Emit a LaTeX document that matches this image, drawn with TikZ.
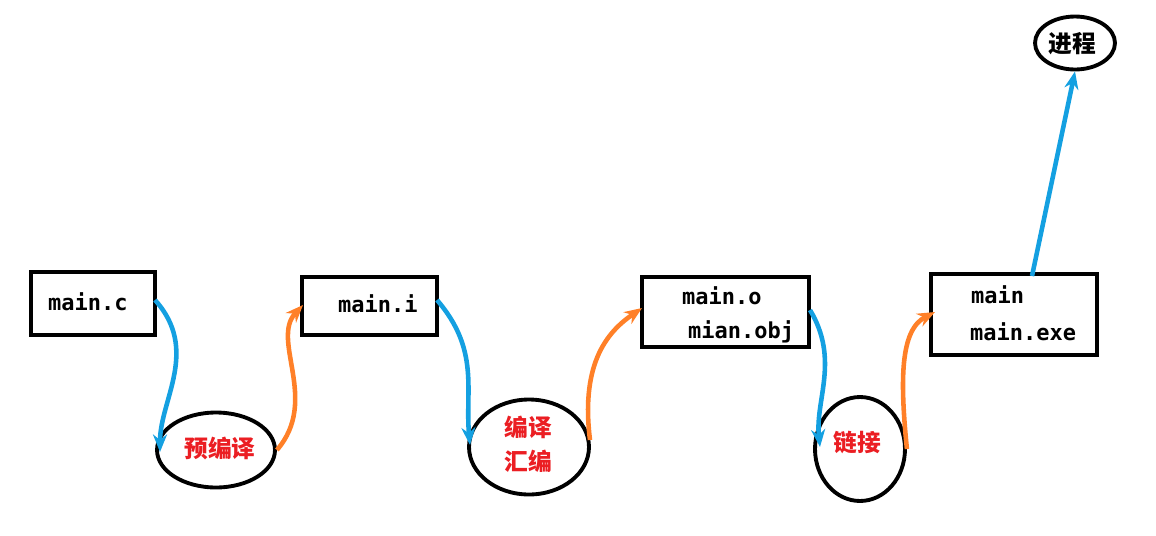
\documentclass[tikz,border=0pt]{standalone}
\usepackage{fontspec}
\setmonofont{DejaVu Sans Mono}
\newfontfamily\cjk{Noto Sans CJK SC}
\usetikzlibrary{shapes.geometric, arrows.meta}
\definecolor{flowblue}{RGB}{20,160,225}
\definecolor{floworange}{RGB}{255,128,40}
\definecolor{steptext}{RGB}{235,30,35}
\tikzset{
  filebox/.style={draw, line width=2.2pt, inner sep=0pt},
  stepoval/.style={ellipse, draw, line width=2.2pt, inner sep=0pt},
  filetext/.style={font=\ttfamily\bfseries\fontsize{12.5}{15}\selectfont, anchor=west},
  steplabel/.style={font=\cjk\bfseries\fontsize{13.5}{16}\selectfont, text=steptext},
  down/.style={flowblue, line width=2.6pt, -{Stealth[length=10pt,width=8pt]}},
  up/.style={floworange, line width=2.6pt, -{Stealth[length=10pt,width=8pt]}}
}
\begin{document}
\begin{tikzpicture}[x=0.02cm, y=-0.02cm]
\useasboundingbox (0,0) rectangle (1156,535);

% Files
\node [filebox, minimum width=2.48cm, minimum height=1.26cm] (c) at (93,303.5) {};
\node [filetext] at (42,302) {main.c};
\node [filebox, minimum width=2.7cm, minimum height=1.16cm] (i) at (369.5,306) {};
\node [filetext] at (332,304) {main.i};
\node [filebox, minimum width=3.34cm, minimum height=1.4cm] (o) at (725.5,312) {};
\node [filetext] at (676,296) {main.o};
\node [filetext] at (682,332) {mian.obj};
\node [filebox, minimum width=3.32cm, minimum height=1.62cm] (exe) at (1014,314.5) {};
\node [filetext] at (965,295) {main};
\node [filetext] at (964,332) {main.exe};

% Steps
\node [stepoval, minimum width=2.36cm, minimum height=1.5cm] (pre) at (216,450) {};
\node [steplabel] at (220,448) {预编译};
\node [stepoval, minimum width=2.4cm, minimum height=1.9cm] (comp) at (529,447) {};
\node [steplabel] at (528,427) {编译};
\node [steplabel] at (528,461) {汇编};
\node [stepoval, minimum width=1.8cm, minimum height=2.08cm] (link) at (860,449) {};
\node [steplabel] at (857,442) {链接};
\node [stepoval, minimum width=1.6cm, minimum height=1.06cm] (proc) at (1075,43) {};
\node [font=\cjk\bfseries\fontsize{13.5}{16}\selectfont] at (1072,44) {进程};

% Flow
\draw [down] (155,300) .. controls (200,350) and (160,400) .. (160,452);
\draw [up] (pre.east) .. controls (320,400) and (270,340) .. (303,305);
\draw [down] (437,300) .. controls (480,350) and (465,390) .. (470,445);
\draw [up] (590,440) .. controls (580,360) and (610,330) .. (642,308);
\draw [down] (810,310) .. controls (840,360) and (815,400) .. (820,447);
\draw [up] (link.east) .. controls (900,380) and (900,330) .. (935,312);
\draw [down] (1032,276) -- (proc.south);
\end{tikzpicture}
\end{document}
